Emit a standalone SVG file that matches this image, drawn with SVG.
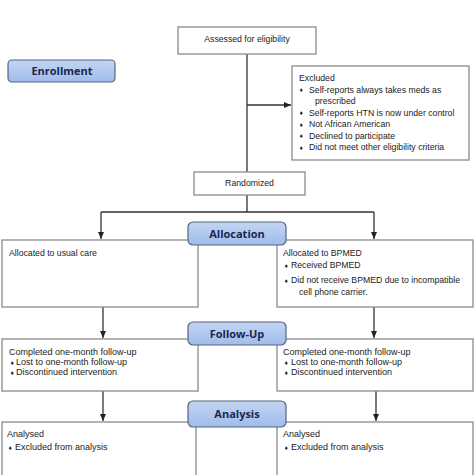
<svg xmlns="http://www.w3.org/2000/svg" width="474" height="475" viewBox="0 0 474 475">
<defs>
<linearGradient id="hg" x1="0" y1="0" x2="0" y2="1">
<stop offset="0" stop-color="#c3d5f3"/>
<stop offset="1" stop-color="#9fbcea"/>
</linearGradient>
<marker id="ah" markerWidth="8" markerHeight="8" refX="7" refY="4" orient="auto" markerUnits="userSpaceOnUse">
<path d="M0,1 L7,4 L0,7 Z" fill="#222"/>
</marker>
<style>
.box{fill:#fff;stroke:#8a8a8a;stroke-width:1.3}
.hd{fill:url(#hg);stroke:#56647f;stroke-width:1.2}
.ht{font-family:"Open Sans","DejaVu Sans",sans-serif;font-weight:bold;font-size:11px;fill:#1b2650;text-anchor:middle}
.t{font-family:"Liberation Sans",Arial,sans-serif;font-size:9px;fill:#222}
.s{font-size:8.7px}
.c{text-anchor:middle}
.b{font-family:"DejaVu Sans",sans-serif;font-size:5px;fill:#222}
.ln{fill:none;stroke:#333;stroke-width:1.3}
</style>
</defs>
<rect width="474" height="475" fill="#fff"/>
<g id="connectors">
<path class="ln" d="M247,54 V172"/>
<path class="ln" d="M247,105 H291" marker-end="url(#ah)"/>
<path class="ln" d="M247,195 V212 M101,212 H374"/>
<path class="ln" d="M101,212 V239" marker-end="url(#ah)"/>
<path class="ln" d="M374,212 V239" marker-end="url(#ah)"/>
<path class="ln" d="M103,307 V338" marker-end="url(#ah)"/>
<path class="ln" d="M374,307 V338" marker-end="url(#ah)"/>
<path class="ln" d="M103,391 V421" marker-end="url(#ah)"/>
<path class="ln" d="M376,391 V421" marker-end="url(#ah)"/>
</g>
<g id="assessed">
<rect class="box" x="178" y="27" width="138" height="27"/>
<text class="t s c" x="247" y="42">Assessed for eligibility</text>
</g>
<g id="excluded">
<rect class="box" x="292" y="66" width="177" height="94"/>
<text class="t s" x="299" y="81">Excluded</text>
<text class="b" x="299" y="92">♦</text><text class="t s" x="309" y="92.5">Self-reports always takes meds as</text>
<text class="t s" x="315" y="104">prescribed</text>
<text class="b" x="299" y="115">♦</text><text class="t s" x="309" y="115.5">Self-reports HTN is now under control</text>
<text class="b" x="299" y="126.5">♦</text><text class="t s" x="309" y="127">Not African American</text>
<text class="b" x="299" y="138">♦</text><text class="t s" x="309" y="138.5">Declined to participate</text>
<text class="b" x="299" y="149.5">♦</text><text class="t s" x="309" y="150">Did not meet other eligibility criteria</text>
</g>
<g id="randomized">
<rect class="box" x="194" y="172" width="111" height="23"/>
<text class="t s c" x="249.5" y="186">Randomized</text>
</g>
<g id="alloc-usual">
<rect class="box" x="2" y="240" width="196" height="67"/>
<text class="t s" x="9" y="255.5">Allocated to usual care</text>
</g>
<g id="alloc-bpmed">
<rect class="box" x="277" y="240" width="196" height="67"/>
<text class="t s" x="283" y="256">Allocated to BPMED</text>
<text class="b" x="284" y="267.5">♦</text><text class="t s" x="291" y="267.5">Received BPMED</text>
<text class="b" x="284" y="283">♦</text><text class="t s" x="291" y="283">Did not receive BPMED due to incompatible</text>
<text class="t s" x="299" y="294.5">cell phone carrier.</text>
</g>
<g id="follow-left">
<rect class="box" x="2" y="339" width="196" height="52"/>
<text class="t" x="9" y="354.5">Completed one-month follow-up</text>
<text class="b" x="10" y="365">♦</text><text class="t" x="16" y="365">Lost to one-month follow-up</text>
<text class="b" x="10" y="375">♦</text><text class="t" x="16" y="375">Discontinued intervention</text>
</g>
<g id="follow-right">
<rect class="box" x="277" y="339" width="196" height="52"/>
<text class="t" x="283" y="354.5">Completed one-month follow-up</text>
<text class="b" x="284" y="365">♦</text><text class="t" x="291" y="365">Lost to one-month follow-up</text>
<text class="b" x="284" y="375">♦</text><text class="t" x="291" y="375">Discontinued intervention</text>
</g>
<g id="analysis-left">
<rect class="box" x="2" y="422" width="194" height="60"/>
<text class="t" x="7" y="437">Analysed</text>
<text class="b" x="8" y="450">♦</text><text class="t" x="15" y="450">Excluded from analysis</text>
</g>
<g id="analysis-right">
<rect class="box" x="277" y="422" width="196" height="60"/>
<text class="t" x="283" y="437">Analysed</text>
<text class="b" x="284" y="450">♦</text><text class="t" x="291" y="450">Excluded from analysis</text>
</g>
<g id="enrollment">
<rect class="hd" x="8" y="60" width="107" height="22" rx="4"/>
<text class="ht" x="62" y="75">Enrollment</text>
</g>
<g id="allocation">
<rect class="hd" x="188" y="222" width="98" height="23" rx="5"/>
<text class="ht" x="237" y="237.5">Allocation</text>
</g>
<g id="followup">
<rect class="hd" x="188" y="322" width="98" height="23" rx="5"/>
<text class="ht" x="237" y="337.5">Follow-Up</text>
</g>
<g id="analysis">
<rect class="hd" x="188" y="401" width="98" height="26" rx="5"/>
<text class="ht" x="237" y="418">Analysis</text>
</g>
</svg>
